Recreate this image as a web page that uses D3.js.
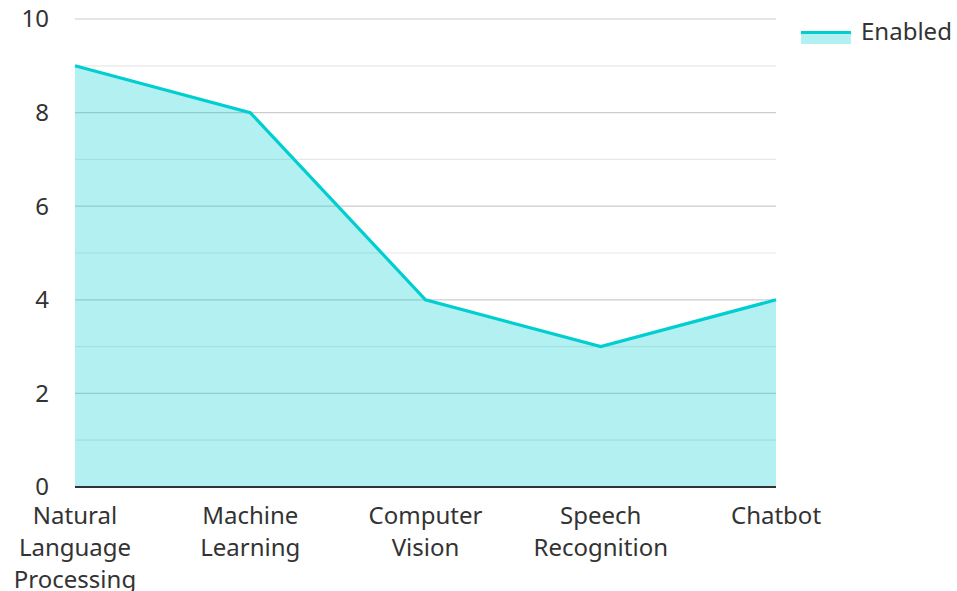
<!DOCTYPE html>
<html><head><meta charset="utf-8">
<script src="https://cdn.jsdelivr.net/npm/d3@7"></script>
<style>body{margin:0;background:#fff;font-family:"Noto Sans","Open Sans",sans-serif;}</style>
</head><body>
<svg id="c" width="957" height="591"></svg>
<script>
const categories = ["Natural Language Processing","Machine Learning","Computer Vision","Speech Recognition","Chatbot"];
const labelLines = [["Natural","Language","Processing"],["Machine","Learning"],["Computer","Vision"],["Speech","Recognition"],["Chatbot"]];
const values = [9, 8, 4, 3, 4];
const seriesName = "Enabled";
const yTicks = [0, 2, 4, 6, 8, 10];
const yMinor = [1, 3, 5, 7, 9];

const svg = d3.select("#c");
const m = {l:75, r:181, t:19, b:104};
const W = 957 - m.l - m.r, H = 591 - m.t - m.b;
const g = svg.append("g").attr("transform", `translate(${m.l},${m.t})`);
const x = d3.scalePoint().domain(categories).range([0, W]);
const y = d3.scaleLinear().domain([0, 10]).range([H, 0]);
const color = "#00CED1";
const fs = 24;

g.selectAll(".minor").data(yMinor).join("line")
  .attr("x1",0).attr("x2",W).attr("y1",d=>y(d)).attr("y2",d=>y(d))
  .attr("stroke","#e8e8e8").attr("stroke-width",1.2);
g.selectAll(".major").data(yTicks.filter(d=>d>0)).join("line")
  .attr("x1",0).attr("x2",W).attr("y1",d=>y(d)).attr("y2",d=>y(d))
  .attr("stroke","#cccccc").attr("stroke-width",1.2);

const data = categories.map((c,i)=>({c, v:values[i]}));
g.append("path").datum(data)
  .attr("d", d3.area().x(d=>x(d.c)).y0(y(0)).y1(d=>y(d.v)))
  .attr("fill", color).attr("fill-opacity", 0.3);
g.append("path").datum(data)
  .attr("d", d3.line().x(d=>x(d.c)).y(d=>y(d.v)))
  .attr("fill","none").attr("stroke", color).attr("stroke-width", 3.2);

g.append("line").attr("x1",0).attr("x2",W).attr("y1",H).attr("y2",H)
  .attr("stroke","#333").attr("stroke-width",2);

g.selectAll(".yl").data(yTicks).join("text")
  .attr("x",-26).attr("y",d=>y(d)).attr("dy","0.35em")
  .attr("text-anchor","end").attr("font-size",fs).attr("fill","#333")
  .text(d=>d);

const xl = g.selectAll(".xl").data(categories).join("text")
  .attr("transform",d=>`translate(${x(d)},${H+37})`)
  .attr("text-anchor","middle").attr("font-size",fs).attr("fill","#333");
xl.each(function(d,i){
  d3.select(this).selectAll("tspan").data(labelLines[i]).join("tspan")
    .attr("x",0).attr("dy",(t,j)=>j===0?0:32).text(t=>t);
});

const lg = svg.append("g").attr("transform","translate(801,31)");
lg.append("rect").attr("x",0).attr("y",0).attr("width",50).attr("height",13)
  .attr("fill",color).attr("fill-opacity",0.3);
lg.append("line").attr("x1",0).attr("x2",50).attr("y1",1.5).attr("y2",1.5)
  .attr("stroke",color).attr("stroke-width",3);
lg.append("text").attr("x",60).attr("y",1).attr("dy","0.35em")
  .attr("font-size",fs).attr("fill","#333").text(seriesName);
</script>
</body></html>
